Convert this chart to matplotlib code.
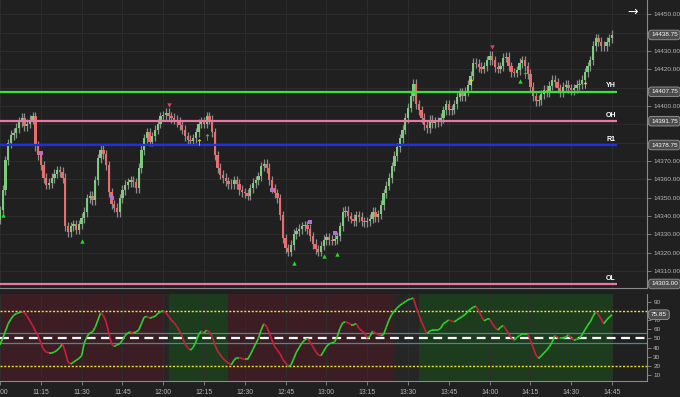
import matplotlib
matplotlib.use("Agg")
import matplotlib.pyplot as plt
import matplotlib.transforms as mtransforms
from matplotlib.collections import LineCollection
import numpy as np

# ---------------- data ----------------
time_labels = ["11:00", "11:15", "11:30", "11:45", "12:00", "12:15", "12:30", "12:45",
               "13:00", "13:15", "13:30", "13:45", "14:00", "14:15", "14:30", "14:45"]

first_open = 14338.00
closes = [
    14343.25, 14354.25, 14370.50, 14379.75, 14384.25, 14385.25, 14388.00, 14391.25, 14393.50, 14389.00,
    14390.25, 14392.50, 14394.50, 14378.25, 14373.25, 14367.75, 14360.75, 14357.00, 14358.00, 14360.75,
    14363.00, 14365.00, 14364.00, 14360.75, 14334.50, 14331.25, 14334.50, 14335.50, 14332.50, 14335.50,
    14339.00, 14342.25, 14349.75, 14351.00, 14348.75, 14359.50, 14371.50, 14376.00, 14373.75, 14367.75,
    14353.00, 14346.50, 14344.50, 14342.25, 14349.75, 14354.25, 14357.00, 14358.50, 14359.50, 14358.50,
    14355.25, 14366.25, 14376.00, 14382.50, 14385.75, 14380.50, 14383.50, 14387.00, 14390.25, 14394.50,
    14395.00, 14396.25, 14394.50, 14393.50, 14392.50, 14391.25, 14389.50, 14387.00, 14383.50, 14381.50,
    14381.00, 14382.50, 14385.75, 14390.25, 14391.25, 14390.25, 14394.50, 14392.50, 14385.75, 14373.25,
    14366.25, 14362.50, 14360.75, 14359.00, 14357.50, 14357.25, 14359.50, 14357.50, 14354.25, 14353.00,
    14352.50, 14351.00, 14355.25, 14358.00, 14359.50, 14361.75, 14367.25, 14368.50, 14366.25, 14359.50,
    14355.25, 14352.50, 14349.75, 14340.50, 14328.00, 14322.50, 14320.50, 14324.25, 14330.25, 14331.75,
    14333.00, 14334.50, 14335.00, 14333.00, 14329.00, 14324.75, 14322.00, 14320.50, 14323.75, 14327.00,
    14328.50, 14327.00, 14326.50, 14327.50, 14329.00, 14334.50, 14342.25, 14342.75, 14340.00, 14338.50,
    14337.25, 14340.50, 14339.50, 14337.25, 14336.75, 14337.25, 14338.50, 14342.25, 14339.50, 14341.00,
    14346.00, 14352.50, 14356.50, 14360.75, 14367.25, 14372.75, 14377.50, 14382.50, 14387.00, 14393.50,
    14399.00, 14405.50, 14412.00, 14401.00, 14397.75, 14393.50, 14389.50, 14388.00, 14392.50, 14390.75,
    14391.25, 14391.75, 14393.50, 14397.75, 14401.00, 14397.75, 14398.00, 14401.00, 14405.00, 14407.50,
    14405.50, 14407.75, 14411.50, 14416.50, 14423.50, 14423.00, 14421.25, 14420.25, 14421.75, 14425.00,
    14427.25, 14425.00, 14421.25, 14420.25, 14421.75, 14426.25, 14426.75, 14421.75, 14418.50, 14418.25,
    14419.50, 14423.50, 14425.00, 14421.75, 14417.50, 14410.50, 14405.50, 14402.75, 14403.25, 14406.50,
    14408.75, 14407.50, 14411.00, 14414.25, 14413.00, 14409.75, 14407.50, 14410.50, 14411.50, 14409.75,
    14408.75, 14409.75, 14411.50, 14412.00, 14414.25, 14418.50, 14421.75, 14425.00, 14432.75, 14437.00,
    14435.00, 14432.75, 14432.50, 14435.00, 14437.00, 14438.75,
]

osc = [
    43, 50, 58, 66, 71, 75, 77, 78, 79, 78, 74, 69, 64, 58, 53, 45, 38, 35, 34, 34,
    35, 37, 40, 44, 35, 24, 22, 24, 26, 28, 31, 45, 52, 56, 57, 62, 70, 78, 75, 68,
    56, 44, 41, 43, 44, 48, 53, 56, 57, 56, 57, 59, 66, 73, 74, 72, 73, 74, 77, 79,
    80, 78, 74, 70, 67, 63, 58, 52, 44, 40, 37, 40, 46, 54, 58, 56, 59, 57, 52, 43,
    36, 32, 28, 25, 23, 21, 26, 29, 29, 28, 27, 27, 32, 38, 44, 50, 59, 66, 63, 56,
    48, 41, 37, 33, 27, 23, 19, 21, 28, 35, 40, 45, 48, 50, 46, 41, 36, 32, 31, 36,
    41, 44, 45, 46, 52, 61, 67, 68, 67, 65, 65, 66, 61, 58, 56, 50, 52, 58, 56, 54,
    53, 54, 62, 70, 76, 80, 83, 86, 88, 90, 92, 93, 94, 84, 76, 68, 61, 55, 58, 59,
    59, 59, 61, 66, 68, 70, 69, 68, 70, 72, 74, 76, 79, 82, 84, 85, 80, 74, 69, 71,
    71, 66, 62, 59, 62, 64, 60, 55, 50, 48, 51, 53, 55, 55, 55, 48, 40, 32, 28, 31,
    34, 37, 41, 46, 53, 51, 50, 50, 51, 54, 50, 48, 49, 50, 54, 59, 64, 68, 74, 79,
    76, 71, 66, 70, 73, 75.85,
]

level_names = ["YH", "OH", "R1", "OL"]
level_values = [14407.75, 14391.75, 14378.75, 14303.00]
level_colors = ["#3ee03e", "#e878a8", "#1f2fe8", "#e878a8"]

last_price = 14438.75
last_osc = 75.85

# price axis ticks whose labels sit under a price tag in the reference
hidden_price_ticks = [14440, 14410, 14390, 14380]
hidden_osc_ticks = [80]

# background regimes of the lower panel: (start minute, end minute, kind)
region_start = [-5, 60, 62, 84, 145, 154]
region_end = [60, 62, 84, 145, 154, 225.5]
region_kind = ["bear", "flat", "bull", "bear", "flat", "bull"]

# signal markers: (minute, price)
up_tri_m = [1, 30, 108, 119, 124, 191]
up_tri_p = [14342.0, 14328.0, 14316.0, 14319.75, 14320.75, 14415.25]
dn_tri_m = [62, 181]
dn_tri_p = [14399.0, 14430.5]
yel_m = [73, 173, 215]
yel_p = [14380.5, 14413.0, 14411.5]
grn_arrow_m = [76, 193]
grn_arrow_p = [14383.0, 14417.0]
purple_m = [15, 41, 100, 114, 123]
purple_p = [14374.5, 14349.75, 14354.25, 14336.75, 14330.75]

# ---------------- style ----------------
BG = "#202020"
GRID = "#2e2e2e"
AX = "#8a8a8a"
TXT = "#b8b8b8"
UP = "#7ccc7c"
DN = "#ea6c6c"
WICK_C = "#8c8c8c"
WICK = 2.5
FS = 4.6
plt.rcParams["font.family"] = ["Liberation Sans", "DejaVu Sans"]

W, H = 680, 397
fig = plt.figure(figsize=(W / 100, H / 100), dpi=100, facecolor=BG)
ax1 = fig.add_axes([0, 1 - 288 / H, 647 / W, 288 / H])
ax2 = fig.add_axes([0, 1 - 381 / H, 647 / W, (381 - 294) / H])

XMAX = 647 / 2.72
n = len(closes)
x = np.arange(n)
c = np.array(closes)
o = np.concatenate([[first_open], c[:-1]])
hi = np.maximum(o, c) + WICK
lo = np.minimum(o, c) - WICK
tick_minutes = np.arange(len(time_labels)) * 15

for ax in (ax1, ax2):
    ax.set_facecolor(BG)
    ax.set_xlim(0, XMAX)
    for s in ["top", "left"]:
        ax.spines[s].set_visible(False)
    for s in ["right", "bottom"]:
        ax.spines[s].set_color(AX)
        ax.spines[s].set_linewidth(0.8)
    ax.yaxis.tick_right()
    ax.tick_params(axis="y", colors=AX, labelcolor=TXT, labelsize=FS, length=3, width=0.6, pad=1.5)
    ax.tick_params(axis="x", colors=AX, labelcolor=TXT, labelsize=FS + 0.3, length=3, width=0.6, pad=3)
    ax.set_xticks(tick_minutes)

# ---------- price panel ----------
ax1.set_ylim(14300.8, 14457.8)
yt = np.arange(14310, 14451, 10)
ax1.set_yticks(yt)
ax1.set_yticklabels(["" if v in hidden_price_ticks else f"{v:.2f}" for v in yt])
ax1.set_xticklabels([])
ax1.tick_params(axis="x", length=0)
ax1.grid(True, color=GRID, linewidth=0.6)
ax1.set_axisbelow(True)

ax1.vlines(x, lo, hi, color=WICK_C, linewidth=0.9, zorder=2)
body_h = np.maximum(np.abs(c - o), 0.4)
cols = [UP if cc >= oo else DN for oo, cc in zip(o, c)]
ax1.bar(x, body_h, bottom=np.minimum(o, c), width=0.86, color=cols, linewidth=0, zorder=3)

for name, val, col in zip(level_names, level_values, level_colors):
    ax1.plot([0, 227], [val, val], color=col, linewidth=1.6, zorder=4, solid_capstyle="butt")
    ax1.text(224.5, val + 1.3, name, color="white", fontsize=5, fontweight="bold",
             ha="center", va="bottom", zorder=6)

ax1.scatter(up_tri_m, np.array(up_tri_p) - 1.5, marker="^", s=10, color="#22dd22", zorder=5, linewidths=0)
ax1.scatter(dn_tri_m, np.array(dn_tri_p) + 1.5, marker="v", s=10, color="#e04060", zorder=5, linewidths=0)
ax1.scatter(yel_m, yel_p, marker=r"$\uparrow$", s=22, color="#f0e040", zorder=5, linewidths=0)
ax1.scatter(grn_arrow_m, grn_arrow_p, marker=r"$\uparrow$", s=22, color="#30e030", zorder=5, linewidths=0)
ax1.scatter(purple_m, purple_p, marker="s", s=7, color="#b070d0", zorder=5, linewidths=0)

tr1 = mtransforms.blended_transform_factory(ax1.transAxes, ax1.transData)
tag_box = dict(boxstyle="round,pad=0.36,rounding_size=0.4", fc="#4c4c4c", ec="#9a9a9a", lw=0.6)
for val in [last_price] + level_values:
    ax1.text(1.0 + 4 / 647, val, f"{val:.2f}", transform=tr1, color="white", fontsize=FS,
             ha="left", va="center", bbox=tag_box, clip_on=False, zorder=10)

# ---------- oscillator panel ----------
ax2.set_ylim(3.45, 98.4)
ot = np.arange(10, 91, 10)
ax2.set_yticks(ot)
ax2.set_yticklabels(["" if v in hidden_osc_ticks else str(v) for v in ot])
ax2.set_xticklabels(time_labels)
ax2.grid(True, axis="x", color=GRID, linewidth=0.6)

reg_colors = {"bear": "#3c1d24", "flat": "#262626", "bull": "#1d3b1d"}
for s, e, k in zip(region_start, region_end, region_kind):
    ax2.axvspan(s, e, color=reg_colors[k], zorder=0, linewidth=0)

ax2.axhline(80, color="#e6e030", linewidth=1.0, linestyle=(0, (1.5, 1.2)), zorder=2)
ax2.axhline(20, color="#e6e030", linewidth=1.0, linestyle=(0, (1.5, 1.2)), zorder=2)
ax2.axhline(56, color="#3f8f8f", linewidth=0.9, zorder=2)
ax2.axhline(45, color="#3f8f8f", linewidth=0.9, zorder=2)
ax2.axhline(50, color="white", linewidth=1.6, linestyle=(0, (4, 2.5)), zorder=3)

ov = np.array(osc, dtype=float)
segs = [[(i - 1, ov[i - 1]), (i, ov[i])] for i in range(1, n)]
seg_cols = ["#2ad42a" if ov[i] >= ov[i - 1] else "#c8203c" for i in range(1, n)]
ax2.add_collection(LineCollection(segs, colors=seg_cols, linewidths=1.2, zorder=4))

tr2 = mtransforms.blended_transform_factory(ax2.transAxes, ax2.transData)
ax2.text(1.0 + 4 / 647, last_osc, f"{last_osc:.2f}", transform=tr2, color="white", fontsize=FS,
         ha="left", va="center", bbox=tag_box, clip_on=False, zorder=10)

fig.text(633 / W, 1 - 12 / H, "\u2192", color="white", fontsize=9, ha="center", va="center",
         family="DejaVu Sans")

fig.savefig("out.png", dpi=100, facecolor=BG)
